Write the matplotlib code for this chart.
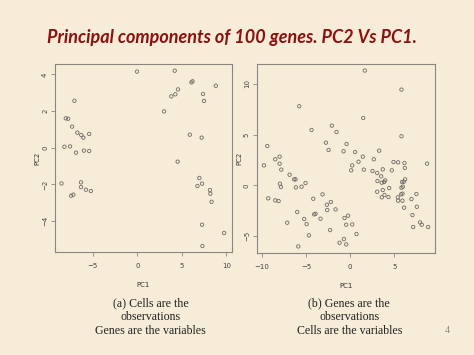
import matplotlib

matplotlib.use("Agg")

import matplotlib.pyplot as plt

# (a) cells are the observations
cells_pc1 = [
    -0.04, 4.19, 6.07, 6.19, 8.81, 4.56, 4.26, 3.81, 7.37, 7.48,
    3.0, 5.89, 7.22, 4.52, 6.96, 7.26, 6.74, 8.15, 8.19, 8.33,
    7.26, 9.74, 7.3,
    -7.07, -8.04, -7.78, -7.33, -6.74, -6.3, -6.07, -5.41, -8.19, -7.56,
    -6.89, -6.0, -5.41, -8.52, -6.33, -6.33, -5.78, -5.22, -7.44, -7.19,
]
cells_pc2 = [
    4.15, 4.2, 3.56, 3.62, 3.38, 3.18, 2.91, 2.8, 2.93, 2.55,
    1.98, 0.71, 0.55, -0.76, -1.65, -1.96, -2.09, -2.31, -2.51, -2.95,
    -4.2, -4.65, -5.36,
    2.56, 1.6, 1.58, 1.15, 0.82, 0.69, 0.55, 0.75, 0.05, 0.07,
    -0.27, -0.16, -0.18, -1.95, -1.89, -2.15, -2.29, -2.36, -2.62, -2.56,
]

# (b) genes are the observations
genes_pc1 = [
    1.65, 5.79, -5.75, 1.47, -2.07, -4.36, -1.54, 5.79, -9.36, -2.74,
    -0.41, -2.44, -0.75, 0.56, 3.27, -7.97, -8.46, 1.43, 2.67, -7.97,
    -9.74, 0.94, 0.23, 4.89, 5.41, 6.13, 8.68, -7.78, 0.11, 1.54,
    3.68, 4.7, 6.17, 2.52, 3.05, -6.84, 3.5, -6.32, -6.17, 6.2,
    3.08, 3.95, 3.83, 3.57, 5.86, 6.05, -7.93, -7.82, -5.04, -6.13,
    -5.49, 5.94, 4.4, 3.68, 5.79, 3.05, -3.12, 7.48, 5.75, 5.9,
    3.87, 4.32, 3.57, 5.38, 5.41, 5.9, 6.92, -9.25, -8.46, -8.08,
    -4.17, -2.18, -2.63, 6.09, 7.52, -1.65, -2.59, -5.98, -3.91, -4.06,
    7.03, -5.19, -3.35, -0.64, -0.23, -7.11, -4.92, -0.45, 0.23, 7.89,
    8.08, 7.11, 8.8, -2.26, -4.66, 0.71, -0.71, -1.2, -0.45, -5.86,
]
genes_pc2 = [
    11.32, 9.44, 7.8, 6.64, 5.89, 5.46, 5.26, 4.84, 3.88, 4.21,
    4.08, 3.49, 3.36, 3.29, 3.42, 2.83, 2.57, 2.83, 2.57, 2.14,
    1.97, 2.33, 1.97, 2.3, 2.27, 2.2, 2.14, 1.55, 1.48, 1.55,
    1.58, 1.48, 1.71, 1.41, 1.22, 1.05, 0.89, 0.59, 0.59, 0.59,
    0.43, 0.49, 0.33, 0.26, 0.33, 0.36, 0.16, -0.16, 0.23, -0.2,
    -0.13, -0.13, -0.26, -0.46, -0.23, -0.63, -0.89, -0.86, -0.89, -0.82,
    -0.95, -1.15, -1.18, -1.18, -1.51, -1.51, -1.35, -1.28, -1.48, -1.55,
    -1.32, -1.64, -1.91, -2.2, -2.11, -2.37, -2.43, -2.63, -2.8, -2.86,
    -2.93, -3.32, -3.29, -3.22, -2.99, -3.68, -3.82, -3.88, -3.85, -3.65,
    -3.88, -4.11, -4.11, -4.41, -4.93, -4.8, -5.3, -5.66, -5.82, -6.02,
]

left_xticks = [-5, 0, 5, 10]
left_yticks = [-4, -2, 0, 2, 4]
right_xticks = [-10, -5, 0, 5]
right_yticks = [-5, 0, 5, 10]

title = "Principal components of 100 genes. PC2 Vs PC1."
caption_a = "(a) Cells are the\nobservations\nGenes are the variables"
caption_b = "(b) Genes are the\nobservations\nCells are the variables"

BACKGROUND = "#f6ecd8"
TITLE_COLOR = "#8b1010"
AXIS_COLOR = "#8a8580"
POINT_COLOR = "#6e6a66"


def style_panel(ax, xticks, yticks, xlim, ylim):
    ax.set_facecolor(BACKGROUND)
    ax.set_xlim(*xlim)
    ax.set_ylim(*ylim)
    ax.set_xticks(xticks)
    ax.set_yticks(yticks)
    for spine in ax.spines.values():
        spine.set_color(AXIS_COLOR)
        spine.set_linewidth(0.8)
    ax.tick_params(
        colors=AXIS_COLOR,
        labelcolor="#444444",
        labelsize=5,
        length=3,
        width=0.6,
    )
    ax.tick_params(axis="x", pad=5)
    ax.tick_params(axis="y", pad=2)
    for label in ax.get_yticklabels():
        label.set_rotation(90)
        label.set_va("center")
    ax.set_xlabel("PC1", fontsize=5, color="#333333", labelpad=9)
    ax.set_ylabel("PC2", fontsize=5, color="#333333", labelpad=1)


fig = plt.figure(figsize=(4.74, 3.55), dpi=100)
fig.patch.set_facecolor(BACKGROUND)

ax_a = fig.add_axes([0.116, 0.290, 0.373, 0.530])
ax_a.scatter(
    cells_pc1,
    cells_pc2,
    s=6,
    facecolors="none",
    edgecolors=POINT_COLOR,
    linewidths=0.6,
)
style_panel(ax_a, left_xticks, left_yticks, (-9.25, 10.6), (-5.69, 4.57))

ax_b = fig.add_axes([0.542, 0.287, 0.376, 0.532])
ax_b.scatter(
    genes_pc1,
    genes_pc2,
    s=6,
    facecolors="none",
    edgecolors=POINT_COLOR,
    linewidths=0.6,
)
style_panel(ax_b, right_xticks, right_yticks, (-10.53, 9.59), (-6.68, 11.94))

fig.text(
    0.489,
    0.895,
    title,
    ha="center",
    va="center",
    fontsize=13,
    fontweight="bold",
    style="italic",
    family=["Lato", "DejaVu Sans"],
    color=TITLE_COLOR,
)

caption_style = dict(
    ha="center",
    va="top",
    fontsize=8.6,
    family="Liberation Serif",
    color="#222222",
    linespacing=1.2,
)
fig.text(0.318, 0.163, caption_a, **caption_style)
fig.text(0.737, 0.163, caption_b, **caption_style)

fig.text(
    0.943,
    0.07,
    "4",
    ha="center",
    va="center",
    fontsize=7,
    family="Liberation Serif",
    color="#888888",
)

plt.savefig("out.png", dpi=100, facecolor=BACKGROUND)
plt.close(fig)
